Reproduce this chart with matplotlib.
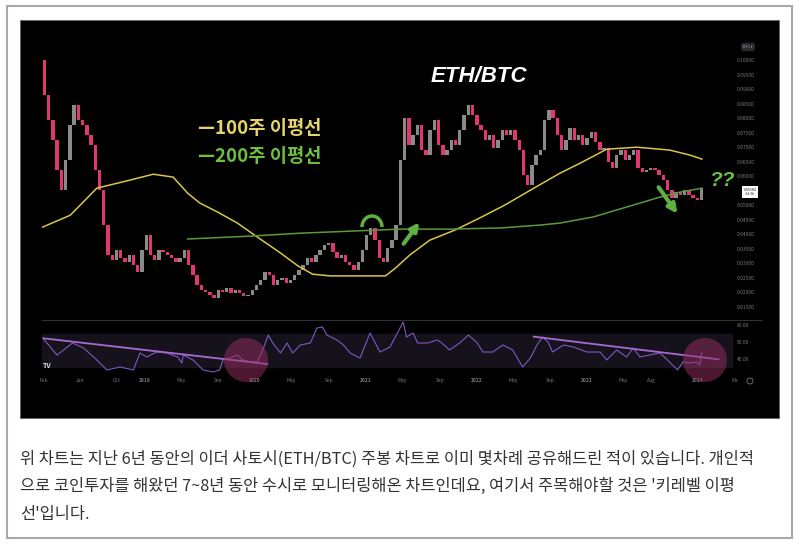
import matplotlib.pyplot as plt
from matplotlib.patches import Rectangle, Circle, Arc, FancyArrowPatch
import pandas as pd

plt.rcParams['font.family'] = ['Noto Sans CJK KR', 'DejaVu Sans']

# biweekly ETH/BTC candle closes
closes = [0.0879, 0.0793, 0.0724, 0.0621, 0.0552, 0.0656, 0.0776, 0.0845, 0.0793, 0.0776,
          0.0742, 0.0707, 0.0621, 0.0552, 0.0432, 0.0329, 0.0312, 0.0346, 0.0318, 0.0305,
          0.0329, 0.0294, 0.0270, 0.0346, 0.0398, 0.0329, 0.0312, 0.0346, 0.0339, 0.0329,
          0.0318, 0.0305, 0.0318, 0.0346, 0.0294, 0.0260, 0.0226, 0.0208, 0.0202, 0.0191,
          0.0181, 0.0208, 0.0202, 0.0215, 0.0198, 0.0208, 0.0198, 0.0188, 0.0191, 0.0208,
          0.0226, 0.0243, 0.0270, 0.0260, 0.0226, 0.0243, 0.0250, 0.0233, 0.0243, 0.0260,
          0.0277, 0.0294, 0.0318, 0.0305, 0.0329, 0.0346, 0.0363, 0.0370, 0.0339, 0.0318,
          0.0329, 0.0305, 0.0294, 0.0277, 0.0305, 0.0346, 0.0398, 0.0422, 0.0380, 0.0318,
          0.0305, 0.0353, 0.0380, 0.0432, 0.0656, 0.0800, 0.0707, 0.0742, 0.0776, 0.0690,
          0.0673, 0.0759, 0.0793, 0.0707, 0.0673, 0.0690, 0.0724, 0.0707, 0.0759, 0.0810,
          0.0845, 0.0810, 0.0776, 0.0759, 0.0724, 0.0742, 0.0697, 0.0724, 0.0759, 0.0742,
          0.0759, 0.0724, 0.0690, 0.0604, 0.0570, 0.0638, 0.0673, 0.0690, 0.0793, 0.0828,
          0.0800, 0.0742, 0.0690, 0.0724, 0.0766, 0.0724, 0.0742, 0.0707, 0.0731, 0.0752,
          0.0718, 0.0690, 0.0697, 0.0649, 0.0628, 0.0673, 0.0690, 0.0656, 0.0673, 0.0690,
          0.0628, 0.0614, 0.0621, 0.0628, 0.0621, 0.0604, 0.0587, 0.0552, 0.0525, 0.0545,
          0.0535, 0.0552, 0.0535, 0.0525, 0.0518, 0.0558]
first_open = 0.1000
candle_dates = pd.date_range('2018-02-05', periods=len(closes), freq='14D')

# 100-week and 200-week moving averages (decimal year, price)
ma100_x = [2018.08, 2018.33, 2018.57, 2018.83, 2019.08, 2019.26, 2019.39, 2019.50, 2019.66,
           2019.84, 2020.02, 2020.23, 2020.39, 2020.52, 2020.68, 2021.18, 2021.27, 2021.40,
           2021.58, 2021.81, 2022.03, 2022.26, 2022.49, 2022.76, 2022.94, 2023.18, 2023.45,
           2023.75, 2023.93, 2024.04]
ma100_y = [0.0425, 0.0466, 0.0559, 0.0583, 0.0607, 0.0597, 0.0542, 0.0508, 0.0477, 0.0439,
           0.0391, 0.0336, 0.0291, 0.0263, 0.0257, 0.0257, 0.0284, 0.0329, 0.0380, 0.0415,
           0.0456, 0.0501, 0.0552, 0.0611, 0.0645, 0.0693, 0.0700, 0.0690, 0.0673, 0.0659]
ma200_x = [2019.39, 2019.96, 2020.41, 2020.86, 2021.31, 2021.76, 2022.22, 2022.58, 2022.76,
           2023.06, 2023.36, 2023.66, 2023.84, 2024.04]
ma200_y = [0.0384, 0.0394, 0.0404, 0.0411, 0.0418, 0.0418, 0.0422, 0.0432, 0.0439, 0.0460,
           0.0494, 0.0528, 0.0545, 0.0559]

# weekly RSI
rsi_x = [2018.08, 2018.21, 2018.35, 2018.45, 2018.57, 2018.66, 2018.78, 2018.90, 2018.96, 2019.02,
         2019.11, 2019.20, 2019.30, 2019.34, 2019.35, 2019.44, 2019.53, 2019.62, 2019.68, 2019.71,
         2019.77, 2019.84, 2019.89, 2019.96, 2020.02, 2020.07, 2020.12, 2020.16, 2020.23, 2020.29,
         2020.34, 2020.41, 2020.50, 2020.56, 2020.61, 2020.65, 2020.74, 2020.80, 2020.86, 2020.95,
         2021.04, 2021.13, 2021.22, 2021.34, 2021.37, 2021.43, 2021.47, 2021.56, 2021.65, 2021.69,
         2021.76, 2021.85, 2021.93, 2022.01, 2022.06, 2022.15, 2022.24, 2022.33, 2022.42, 2022.49,
         2022.55, 2022.60, 2022.65, 2022.69, 2022.79, 2022.88, 2023.00, 2023.12, 2023.18, 2023.27,
         2023.36, 2023.42, 2023.48, 2023.57, 2023.66, 2023.73, 2023.82, 2023.87, 2023.93, 2024.00,
         2024.02, 2024.04]
rsi_y = [64.7, 44.7, 58.8, 52.9, 38.8, 27.1, 30.6, 27.1, 47.1, 42.4,
         48.2, 47.1, 42.4, 35.3, 44.7, 38.8, 27.1, 24.7, 27.1, 38.8,
         41.2, 44.7, 38.8, 36.5, 36.5, 50.6, 68.2, 58.8, 47.1, 58.8,
         47.1, 56.5, 58.8, 76.5, 77.6, 68.2, 62.4, 56.5, 47.1, 41.2,
         70.6, 48.2, 54.1, 83.5, 65.9, 70.6, 58.8, 58.8, 62.4, 58.8,
         50.6, 58.8, 68.2, 58.8, 48.2, 48.2, 56.5, 50.6, 30.6, 41.2,
         56.5, 65.9, 60.0, 48.2, 56.5, 54.1, 48.2, 48.2, 38.8, 50.6,
         42.4, 52.9, 42.4, 44.7, 47.1, 38.8, 27.1, 36.5, 35.3, 36.5,
         32.9, 47.1]
# hand-drawn RSI trendlines
trend1_x, trend1_y = [2018.09, 2020.11], [64.3, 34.1]
trend2_x, trend2_y = [2022.52, 2024.19], [66.3, 39.6]

price_ticks = [0.100, 0.095, 0.090, 0.085, 0.080, 0.075, 0.070, 0.065, 0.060,
               0.050, 0.045, 0.040, 0.035, 0.030, 0.025, 0.020, 0.015]
rsi_ticks = [80, 60, 40]
x_ticks = [2018.09, 2018.42, 2018.75, 2019.0, 2019.33, 2019.67, 2020.0, 2020.33, 2020.67,
           2021.0, 2021.33, 2021.67, 2022.0, 2022.33, 2022.67, 2023.0, 2023.33, 2023.58, 2024.0]
x_labels = ['Feb', 'Jun', 'Oct', '2019', 'May', 'Sep', '2020', 'May', 'Sep', '2021', 'May',
            'Sep', '2022', 'May', 'Sep', '2023', 'May', 'Aug', '2024']

paragraph = ["위 차트는 지난 6년 동안의 이더 사토시(ETH/BTC) 주봉 차트로 이미 몇차례 공유해드린 적이 있습니다. 개인적",
             "으로 코인투자를 해왔던 7~8년 동안 수시로 모니터링해온 차트인데요, 여기서 주목해야할 것은 '키레벨 이평",
             "선'입니다."]

UP, DOWN = '#8a8a8a', '#e0386e'
YELLOW, GREEN = '#d8c54a', '#5a9a3c'
LABEL = '#7a7a7a'

fig = plt.figure(figsize=(8, 5.44), dpi=100)

# page background in pixel coordinates
bg = fig.add_axes([0, 0, 1, 1])
bg.set_xlim(0, 800)
bg.set_ylim(544, 0)
bg.axis('off')
bg.add_patch(Rectangle((7, 6), 785, 532, fill=False, ec='#a8a8a8', lw=1.5))
bg.add_patch(Rectangle((19.5, 20), 759.5, 398, fc='black', ec='#606060', lw=0.5))
bg.plot([42, 762], [320, 320], color='#333333', lw=0.7)
for i, line in enumerate(paragraph):
    bg.text(20, 459 + i * 27.5, line, fontsize=11.8, color='#333333', va='center', ha='left')

# price panel
ax = fig.add_axes([20 / 800, 1 - 318 / 544, 713 / 800, 298 / 544])
ax.set_facecolor('none')
cx = candle_dates.year + (candle_dates.dayofyear - 1) / 365.25
opens = [first_open] + closes[:-1]
bottoms = [min(o, c) for o, c in zip(opens, closes)]
heights = [abs(c - o) for o, c in zip(opens, closes)]
colors = [UP if c >= o else DOWN for o, c in zip(opens, closes)]
ax.bar(cx, heights, bottom=bottoms, width=14 / 365.25 * 0.8, color=colors, linewidth=0)
ax.plot(ma100_x, ma100_y, color=YELLOW, lw=1.1)
ax.plot(ma200_x, ma200_y, color=GREEN, lw=1.1)
ax.set_xlim(2017.875, 2024.322)
ax.set_ylim(0.011214, 0.113765)
ax.set_xticks([])
ax.yaxis.tick_right()
ax.set_yticks(price_ticks)
ax.set_yticklabels([f'{t:.5f}' for t in price_ticks])
ax.tick_params(axis='y', length=0, pad=3, labelsize=3.5, labelcolor=LABEL)
for s in ax.spines.values():
    s.set_visible(False)

# RSI panel
rx = fig.add_axes([20 / 800, 1 - 374 / 544, 713 / 800, 56 / 544])
rx.set_facecolor('none')
rx.axhspan(30, 70, xmin=22 / 713, color='#15121c', zorder=0)
rx.plot(rsi_x, rsi_y, color='#7e57c2', lw=0.8)
rx.plot(trend1_x, trend1_y, color='#a86ad0', lw=1.3)
rx.plot(trend2_x, trend2_y, color='#a86ad0', lw=1.3)
rx.set_xlim(2017.875, 2024.322)
rx.set_ylim(22.35, 88.24)
rx.yaxis.tick_right()
rx.set_yticks(rsi_ticks)
rx.set_yticklabels([f'{t:.2f}' for t in rsi_ticks])
rx.set_xticks(x_ticks)
rx.set_xticklabels(x_labels)
for lbl in rx.get_xticklabels():
    if lbl.get_text().isdigit():
        lbl.set_fontweight('bold')
rx.tick_params(length=0, pad=3, labelsize=3.5, labelcolor=LABEL)
for s in rx.spines.values():
    s.set_visible(False)

# annotations overlay
ov = fig.add_axes([0, 0, 1, 1])
ov.set_xlim(0, 800)
ov.set_ylim(544, 0)
ov.axis('off')
ov.patch.set_alpha(0)
ov.add_patch(Circle((246, 360), 22, fc='#9a2e60', alpha=0.5, lw=0))
ov.add_patch(Circle((705, 360), 22, fc='#9a2e60', alpha=0.5, lw=0))
ov.text(479, 76, 'ETH/BTC', family='Liberation Sans', fontsize=16, fontweight='bold',
        fontstyle='italic', color='white', ha='center', va='center')
ov.text(198, 128, '—100주 이평선', fontsize=13.5, fontweight='bold', color='#e6d46a',
        ha='left', va='center')
ov.text(198, 157, '—200주 이평선', fontsize=13.5, fontweight='bold', color='#6cbf3f',
        ha='left', va='center')
ov.text(722, 181, '??', family='Liberation Sans', fontsize=15, fontweight='bold',
        fontstyle='italic', color='#6cbf3f', ha='center', va='center')
ov.add_patch(FancyArrowPatch((402, 246), (421, 220), arrowstyle='-|>', mutation_scale=12,
                             lw=3, color='#5fb040'))
ov.add_patch(FancyArrowPatch((657, 185), (679, 216), arrowstyle='-|>', mutation_scale=13,
                             lw=3, color='#5fb040'))
ov.add_patch(Arc((372, 227), 20, 22, theta1=180, theta2=360, lw=2.5, color='#5fb040'))
# TradingView chrome
ov.text(47, 366, 'TV', fontsize=5, fontweight='bold', color='#dddddd', ha='center', va='center')
ov.text(748, 47, 'BTC ▾', fontsize=2.6, color='#aaaaaa', ha='center', va='center',
        bbox=dict(boxstyle='round,pad=0.6', fc='#2a2a30', ec='none'))
ov.text(750, 192, '0.05584\n3d 9h', fontsize=2.6, color='#222222', ha='center', va='center',
        linespacing=1.1, bbox=dict(boxstyle='square,pad=0.4', fc='white', ec='none'))
ov.text(735, 381, 'Ma', fontsize=3.5, color=LABEL, ha='center', va='center')
ov.add_patch(Circle((750, 381), 3, fill=False, ec=LABEL, lw=0.6))

fig.savefig('out.png', dpi=100, facecolor='white')
